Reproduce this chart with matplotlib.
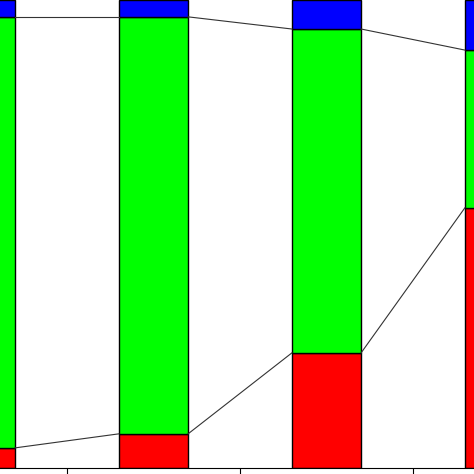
import matplotlib.pyplot as plt
import numpy as np

# stacked shares per group (red bottom, green middle, blue top)
groups = [0, 1, 2, 3]
red = [0.043, 0.073, 0.246, 0.556]
green = [0.921, 0.891, 0.692, 0.337]
blue = [1 - r - g for r, g in zip(red, green)]

fig = plt.figure(figsize=(4.74, 4.74), dpi=100)
ax = fig.add_axes([0, 6 / 474, 1, 468 / 474])

w = 0.4
x = np.array(groups)
red = np.array(red); green = np.array(green); blue = np.array(blue)
ax.bar(x, red, w, color='#ff0000', edgecolor='k', linewidth=1)
ax.bar(x, green, w, bottom=red, color='#00ff00', edgecolor='k', linewidth=1)
ax.bar(x, blue, w, bottom=red + green, color='#0000ff', edgecolor='k', linewidth=1)

# connector lines between bar edges
for lvl in (red, red + green):
    for i in range(len(x) - 1):
        ax.plot([x[i] + w / 2, x[i + 1] - w / 2], [lvl[i], lvl[i + 1]],
                color='#333333', linewidth=0.8)

ax.set_xlim(19.5 / 173, (474 + 19.5) / 173)
ax.set_ylim(0, 1)
ax.set_xticks([0.5, 1.5, 2.5])
ax.set_xticklabels([])
ax.set_yticks([])
ax.tick_params(axis='x', length=5, direction='out')
for s in ('top', 'left', 'right'):
    ax.spines[s].set_visible(False)

plt.savefig('out.png', dpi=100)
